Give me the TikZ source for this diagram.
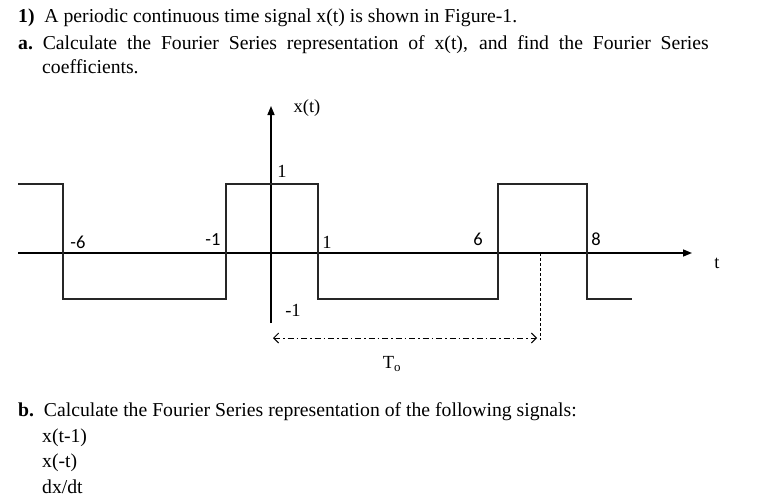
\documentclass[tikz,border=0pt]{standalone}
\usepackage{fontspec}
\setmainfont{Liberation Serif}
\newfontfamily\carlitofont{Carlito}
\usetikzlibrary{arrows.meta}
\begin{document}
\begin{tikzpicture}[x=1pt,y=-1pt,
  txt/.style={anchor=base west,inner sep=0pt,font=\fontsize{19.7}{22}\selectfont},
  lab/.style={inner sep=0pt,font=\fontsize{18.5}{20}\selectfont},
  sans/.style={inner sep=0pt,font=\carlitofont\fontsize{18.5}{20}\selectfont},
  sig/.style={line width=1.3pt,draw=black!85},
  ax/.style={line width=1.5pt,-{Triangle[length=9pt,width=7pt]}}]
\useasboundingbox (0,0) rectangle (762,503);
\node[txt] (l1) at (18,23) {\textbf{1)}\ \ A periodic continuous time signal x(t) is shown in Figure-1.};
\node[txt] (l2) at (18,49) {\textbf{a.}\ \ \makebox[666pt][s]{Calculate the Fourier Series representation of x(t), and find the Fourier Series}};
\node[txt] (l3) at (42,73) {coefficients.};
\node[txt] (b1) at (18,416) {\textbf{b.}\ \ Calculate the Fourier Series representation of the following signals:};
\node[txt] (b2) at (42,442) {x(t-1)};
\node[txt] (b3) at (42,467) {x(-t)};
\node[txt] (b4) at (42,493) {dx/dt};
% axes
\coordinate (xa0) at (18,253); \coordinate (xa1) at (692,253);
\coordinate (ya0) at (271,323); \coordinate (ya1) at (271,106);
\draw[ax] (xa0) -- (xa1);
\draw[ax] (ya0) -- (ya1);
% signal
\draw[sig] (18,184) -- (63,184) -- (63,299) -- (226,299) -- (226,184) -- (318,184) -- (318,299) -- (498,299) -- (498,184) -- (587,184) -- (587,299) -- (632,299);
% T0
\coordinate (d0) at (540,253); \coordinate (d1) at (540,340);
\draw[densely dashed,line width=0.6pt] (d0) -- (d1);
\coordinate (p0) at (273,338); \coordinate (p1) at (537,338);
\draw[dash pattern=on 6pt off 3pt on 1.5pt off 3pt,line width=0.9pt,{Straight Barb[length=5pt,width=10pt]}-{Straight Barb[length=5pt,width=10pt]}] (p0) -- (p1);
\node[lab] (T) at (392,364) {T\textsubscript{o}};
\node[lab] (xt) at (307,108) {x(t)};
\node[lab] (tt) at (717,263) {t};
\node[lab] (one) at (282,171) {1};
\node[sans] (m6) at (78,242) {-6};
\node[sans] (m1) at (213,240) {-1};
\node[lab] (p1l) at (327,242) {1};
\node[sans] (s6) at (478,239) {6};
\node[sans] (e8) at (596,239) {8};
\node[lab] (mm1) at (293,310) {-1};
\end{tikzpicture}
\end{document}
